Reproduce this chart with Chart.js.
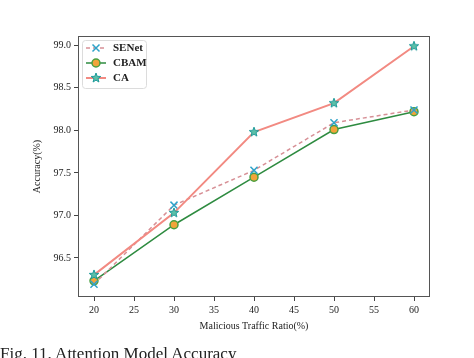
<!DOCTYPE html>
<html>
<head>
<meta charset="utf-8">
<script src="https://cdn.jsdelivr.net/npm/chart.js@4"></script>
<style>
  html,body{margin:0;padding:0;background:#fff;width:474px;height:358px;overflow:hidden;}
  #wrap{position:absolute;left:0;top:0;width:474px;height:358px;}
  #cap{position:absolute;left:0px;top:345px;font:17px "Liberation Serif","DejaVu Serif",serif;color:#222;white-space:nowrap;line-height:17px;}
</style>
</head>
<body>
<div id="wrap"><canvas id="c" width="474" height="358"></canvas></div>
<div id="cap">Fig. 11. Attention Model Accuracy</div>
<script>
const ratios = [20, 30, 40, 50, 60];
const senet = [96.19, 97.12, 97.53, 98.09, 98.24];
const cbam  = [96.23, 96.89, 97.45, 98.01, 98.22];
const ca    = [96.30, 97.03, 97.98, 98.32, 98.99];
const xTicks = [20, 25, 30, 35, 40, 45, 50, 55, 60];
const yTicks = [96.5, 97.0, 97.5, 98.0, 98.5, 99.0];
const seriesNames = ['SENet', 'CBAM', 'CA'];

const FONT = '"Liberation Serif","DejaVu Serif",serif';

function makeStar(size, fill, edge) {
  const cv = document.createElement('canvas');
  cv.width = size; cv.height = size;
  const g = cv.getContext('2d');
  const cx = size / 2, cy = size / 2, R = size / 2 - 1, r = R * 0.42;
  g.beginPath();
  for (let i = 0; i < 10; i++) {
    const rad = i % 2 === 0 ? R : r;
    const a = -Math.PI / 2 + i * Math.PI / 5;
    const px = cx + rad * Math.cos(a), py = cy + rad * Math.sin(a);
    if (i === 0) g.moveTo(px, py); else g.lineTo(px, py);
  }
  g.closePath();
  g.fillStyle = fill; g.fill();
  g.strokeStyle = edge; g.lineWidth = 1; g.stroke();
  return cv;
}
const starImg = makeStar(12, '#5cc0a8', '#1f9a9a');

const pts = arr => ratios.map((x, i) => ({x: x, y: arr[i]}));

const frame = {
  id: 'frame',
  afterDraw(chart) {
    const {ctx, chartArea: a} = chart;
    ctx.save();
    ctx.strokeStyle = '#555';
    ctx.lineWidth = 1;
    ctx.strokeRect(a.left + 0.5, a.top + 0.5, a.right - a.left - 1, a.bottom - a.top - 1);
    // legend
    const lx = 82, ly = 40, lw = 64, lh = 48;
    ctx.fillStyle = 'rgba(255,255,255,0.9)';
    ctx.strokeStyle = '#dcdcdc';
    ctx.beginPath();
    if (ctx.roundRect) ctx.roundRect(lx + 0.5, ly + 0.5, lw, lh, 3); else ctx.rect(lx + 0.5, ly + 0.5, lw, lh);
    ctx.fill(); ctx.stroke();
    const rows = [48, 63, 78];
    chart.data.datasets.forEach((ds, i) => {
      const y = rows[i];
      ctx.save();
      ctx.strokeStyle = ds.borderColor;
      ctx.lineWidth = ds.borderWidth;
      ctx.setLineDash(ds.borderDash || []);
      ctx.beginPath(); ctx.moveTo(86, y); ctx.lineTo(106, y); ctx.stroke();
      ctx.restore();
      const mx = 96;
      if (i === 0) {
        ctx.strokeStyle = ds.pointBorderColor; ctx.lineWidth = 1.5;
        ctx.beginPath();
        ctx.moveTo(mx - 3.5, y - 3.5); ctx.lineTo(mx + 3.5, y + 3.5);
        ctx.moveTo(mx + 3.5, y - 3.5); ctx.lineTo(mx - 3.5, y + 3.5);
        ctx.stroke();
      } else if (i === 1) {
        ctx.fillStyle = ds.pointBackgroundColor; ctx.strokeStyle = ds.pointBorderColor; ctx.lineWidth = 1.5;
        ctx.beginPath(); ctx.arc(mx, y, 4, 0, Math.PI * 2); ctx.fill(); ctx.stroke();
      } else {
        ctx.drawImage(starImg, mx - 6, y - 6);
      }
      ctx.fillStyle = '#222';
      ctx.font = 'bold 11px ' + FONT;
      ctx.textBaseline = 'middle';
      ctx.fillText(ds.label, 113, y + 0.5);
    });
    ctx.restore();
  }
};

new Chart(document.getElementById('c'), {
  type: 'line',
  data: {
    datasets: [
      {
        label: seriesNames[0], data: pts(senet),
        borderColor: '#d79096', borderWidth: 1.5, borderDash: [4, 3],
        pointStyle: 'crossRot', pointRadius: 5, pointBorderColor: '#2fa3c9', pointBorderWidth: 1.5,
        pointBackgroundColor: '#2fa3c9', order: 2
      },
      {
        label: seriesNames[1], data: pts(cbam),
        borderColor: '#2e8b40', borderWidth: 1.5,
        pointStyle: 'circle', pointRadius: 4, pointBorderColor: '#4aa040', pointBorderWidth: 1.5,
        pointBackgroundColor: '#f2a43a', order: 3
      },
      {
        label: seriesNames[2], data: pts(ca),
        borderColor: '#f28a82', borderWidth: 2,
        pointStyle: starImg, pointRadius: 6, pointBorderColor: '#1f9a9a',
        pointBackgroundColor: '#5cc0a8', order: 1
      }
    ]
  },
  options: {
    responsive: false,
    animation: false,
    devicePixelRatio: 1,
    layout: {padding: {left: 0, top: 36, right: 44, bottom: 24}},
    plugins: {legend: {display: false}, tooltip: {enabled: false}},
    elements: {line: {tension: 0}},
    scales: {
      x: {
        type: 'linear', min: 18, max: 62,
        afterBuildTicks: s => { s.ticks = xTicks.map(v => ({value: v})); },
        afterFit: s => { s.height = 37; },
        grid: {drawOnChartArea: false, drawTicks: true, tickLength: 4, color: '#444', tickColor: '#444'},
        border: {display: false},
        ticks: {font: {family: FONT, size: 10}, color: '#222', padding: 3, maxRotation: 0, autoSkip: false},
        title: {display: true, text: 'Malicious Traffic Ratio(%)', font: {family: FONT, size: 10}, color: '#222', padding: {top: 2, bottom: 2}}
      },
      y: {
        type: 'linear', min: 96.04, max: 99.11,
        afterBuildTicks: s => { s.ticks = yTicks.map(v => ({value: v})); },
        afterFit: s => { s.width = 78; },
        grid: {drawOnChartArea: false, drawTicks: true, tickLength: 4, color: '#444', tickColor: '#444'},
        border: {display: false},
        ticks: {font: {family: FONT, size: 10}, color: '#222', padding: 3, autoSkip: false, callback: v => v.toFixed(1)},
        title: {display: true, text: 'Accuracy(%)', font: {family: FONT, size: 10}, color: '#222', padding: {top: 31, bottom: 2}}
      }
    }
  },
  plugins: [frame]
});
</script>
</body>
</html>
